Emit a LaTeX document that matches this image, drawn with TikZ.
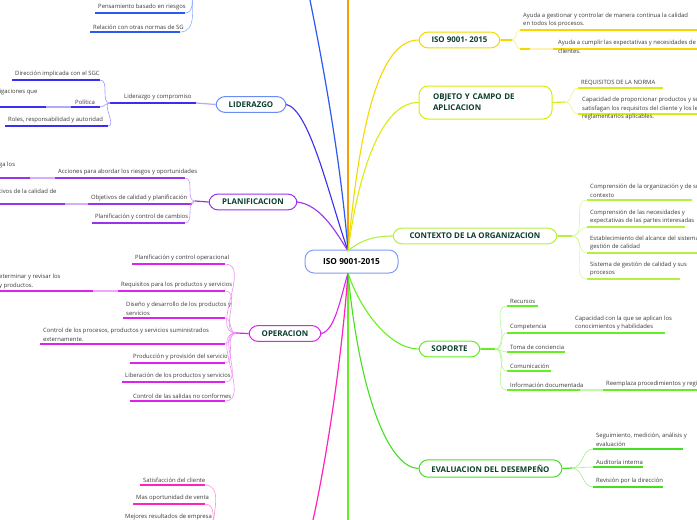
\documentclass[tikz,border=0pt]{standalone}
\usepackage{fontspec}
\setmainfont{Open Sans}
\definecolor{cblue}{HTML}{2A5BF0}
\definecolor{clid}{HTML}{3A2EF0}
\definecolor{cpla}{HTML}{9933EE}
\definecolor{cope}{HTML}{DD22EE}
\definecolor{cmag}{HTML}{FF22BB}
\definecolor{ciso}{HTML}{F5D800}
\definecolor{cobj}{HTML}{D8EC10}
\definecolor{cctx}{HTML}{B4F040}
\definecolor{csop}{HTML}{66EE22}
\definecolor{ceva}{HTML}{44E020}
\definecolor{corg}{HTML}{F5A000}
\definecolor{ctxt}{HTML}{3A3A3A}
\definecolor{cnode}{HTML}{0B3D2E}
\tikzset{
 small/.style={font=\fontsize{5.9}{8.5}\selectfont,text=ctxt,inner sep=0pt,align=left},
 main/.style={draw=#1,line width=1pt,rounded corners=9pt,fill=white,font=\fontsize{7.9}{11}\selectfont\bfseries,text=cnode,inner xsep=8pt,inner ysep=5pt,align=left},
 conn/.style={draw=#1,line width=0.6pt},
}
\newcommand\leaf[6]{%
 \coordinate (#1w) at (#2,#4); \coordinate (#1e) at (#3,#4);
 \draw[#6,line width=1.2pt] (#1w)--(#1e);
 \node[small,anchor=south west] (#1) at (#2+3,#4-2.5) {#5};}
\begin{document}
\begin{tikzpicture}[x=1pt,y=-1pt]
\useasboundingbox (0,0) rectangle (697,520);
% trunk lines
\coordinate (ct) at (348,251); \coordinate (cb) at (348,273);
\coordinate (topo) at (348,0); \coordinate (botg) at (348,520);
\coordinate (topb) at (310,0); \coordinate (botm) at (313,520);
\draw[corg,line width=1.2pt] (ct)--(topo);
\draw[csop,line width=1.2pt] (cb)--(botg);
\draw[cblue,line width=1.2pt] (ct) .. controls (340,150) and (318,40) .. (topb);
\draw[cmag,line width=1.2pt] (cb) .. controls (340,380) and (322,480) .. (botm);
% main nodes
\node[main=cblue!70,minimum width=70pt] (lid) at (251,104.5) {LIDERAZGO};
\node[main=cpla,minimum width=88pt] (pla) at (253,202) {PLANIFICACION};
\node[main=cope,minimum width=72pt] (ope) at (285,333.5) {OPERACION};
\node[main=ciso,minimum width=81pt] (iso) at (459.5,40) {ISO 9001- 2015};
\node[main=cobj,minimum width=133pt,minimum height=33pt,text width=105pt] (obj) at (485.5,102.5) {OBJETO Y CAMPO DE\\APLICACION};
\node[main=cctx,minimum width=164pt] (ctx) at (475,236) {CONTEXTO DE LA ORGANIZACION};
\node[main=csop,minimum width=61pt] (sop) at (449.5,349) {SOPORTE};
\node[main=ceva,minimum width=143pt] (eva) at (490.5,468.5) {EVALUACION DEL DESEMPEÑO};
\node[draw=cblue!60,line width=1pt,rounded corners=9pt,fill=white,font=\fontsize{8.3}{10}\selectfont\bfseries,text=black,minimum width=93pt,minimum height=23pt] (c) at (351.5,261.5) {ISO 9001-2015};
% center connectors
\draw[conn=clid,line width=1.1pt] (ct) .. controls (330,200) and (310,110) .. (lid.east);
\draw[conn=cpla,line width=1.1pt] (ct) .. controls (335,230) and (320,205) .. (pla.east);
\draw[conn=cope,line width=1.1pt] (cb) .. controls (340,300) and (335,330) .. (ope.east);
\draw[conn=ciso,line width=1.1pt] (ct) .. controls (360,120) and (380,40) .. (iso.west);
\draw[conn=cobj,line width=1.1pt] (ct) .. controls (360,160) and (385,102) .. (obj.west);
\draw[conn=cctx,line width=1.1pt] (ct) .. controls (360,240) and (375,236) .. (ctx.west);
\draw[conn=csop,line width=1.1pt] (cb) .. controls (360,310) and (390,349) .. (sop.west);
\draw[conn=ceva,line width=1.1pt] (cb) .. controls (360,400) and (390,468) .. (eva.west);
% ---------- top blue leaves
\leaf{pb}{95}{185}{13}{Pensamiento basado en riesgos}{cblue}
\leaf{rel}{90}{180}{32}{Relación con otras normas de SG}{cblue}
\coordinate (bbp) at (192,-10);
\draw[conn=cblue!50] (bbp) to[out=270,in=0] (pbe);
\draw[conn=cblue!50] (bbp) to[out=270,in=0] (rele);
% ---------- LIDERAZGO
\coordinate (lidbp) at (110,103);
\draw[clid!40,line width=1.2pt] (lid.west)--(196,103);
\draw[clid,line width=1.2pt] (196,103)--(lidbp);
\node[small,anchor=south west] (lyc) at (124,100.5) {Liderazgo y compromiso};
\leaf{dir}{12}{100}{80}{Dirección implicada con el SGC}{clid}
\coordinate (polw) at (0,107); \coordinate (pole) at (100,107);
\draw[clid!40,line width=1.2pt] (46,107)--(71,107);
\draw[clid,line width=1.2pt] (polw)--(46,107); \draw[clid,line width=1.2pt] (71,107)--(pole);
\node[small,anchor=south west] (pol) at (75,104.5) {Política};
\node[small,anchor=south west] (obl) at (-2,95.5) {ligaciones que};
\leaf{rol}{5}{108}{126}{Roles, responsabilidad y autoridad}{clid}
\draw[conn=clid!50] (lidbp) to[out=180,in=0] (dire);
\draw[conn=clid!50] (lidbp) to[out=180,in=0] (pole);
\draw[conn=clid!50] (lidbp) to[out=180,in=0] (role);
% ---------- PLANIFICACION
\coordinate (plabp) at (195,201);
\draw[cpla,line width=1.2pt] (pla.west)--(plabp);
\leaf{acc}{55}{185}{178}{Acciones para abordar los riesgos y oportunidades}{cpla}
\draw[cpla!40,line width=1.2pt] (30,178)--(55,178); \draw[cpla,line width=1.2pt] (0,178)--(30,178);
\node[small,anchor=south west] (ga) at (-1,168) {ga los};
\leaf{obc}{88}{192}{204}{Objetivos de calidad y planificación}{cpla}
\draw[cpla!40,line width=1.2pt] (65,204)--(88,204); \draw[cpla,line width=1.2pt] (0,204)--(65,204);
\node[small,anchor=south west] (tiv) at (-1,194) {tivos de la calidad de};
\leaf{pcc}{92}{185}{223}{Planificación y control de cambios}{cpla}
\draw[conn=cpla!50] (plabp) to[out=180,in=0] (acce);
\draw[conn=cpla!50] (plabp) to[out=180,in=0] (obce);
\draw[conn=cpla!50] (plabp) to[out=180,in=0] (pcce);
% ---------- OPERACION
\coordinate (opebp) at (236,333);
\draw[cope,line width=1.2pt] (ope.west)--(opebp);
\leaf{o1}{132}{225}{264}{Planificación y control operacional}{cope}
\leaf{o2}{118}{225}{291}{Requisitos para los productos y servicios}{cope}
\draw[cope!40,line width=1.2pt] (93,291)--(118,291); \draw[cope,line width=1.2pt] (0,291)--(93,291);
\node[small,anchor=south west] (det) at (-1,289) {eterminar y revisar los\\y productos.};
\leaf{o3}{123}{225}{318}{Diseño y desarrollo de los productos y\\servicios}{cope}
\leaf{o4}{40}{225}{344}{Control de los procesos, productos y servicios suministrados\\externamente.}{cope}
\leaf{o5}{130}{225}{363}{Producción y provisión del servicio}{cope}
\leaf{o6}{122}{225}{382}{Liberación de los productos y servicios}{cope}
\leaf{o7}{130}{225}{401}{Control de las salidas no conformes}{cope}
\foreach \i in {1,...,7} {\draw[conn=cope!50] (opebp) to[out=180,in=0] (o\i e);}
% ---------- bottom magenta
\leaf{m1}{140}{205}{485}{Satisfacción del cliente}{cmag}
\leaf{m2}{133}{205}{504}{Mas oportunidad de venta}{cmag}
\leaf{m3}{122}{215}{523}{Mejores resultados de empresa}{cmag}
\coordinate (mbp) at (213,530);
\draw[conn=cmag!50] (mbp) to[out=90,in=0] (m1e);
\draw[conn=cmag!50] (mbp) to[out=90,in=0] (m2e);
% ---------- ISO right
\coordinate (isobp) at (512,40);
\draw[ciso,line width=1.2pt] (iso.east)--(isobp);
\leaf{i1}{520}{697}{30}{Ayuda a gestionar y controlar de manera continua la calidad\\en todos los procesos.}{ciso}
\coordinate (i2w) at (520,49);
\draw[ciso,line width=1.2pt] (520,49)--(530,49); \draw[ciso!30,line width=1.2pt] (530,49)--(553,49); \draw[ciso,line width=1.2pt] (553,49)--(697,49);
\node[small,anchor=north west] (i2) at (558,40) {Ayuda a cumplir las expectativas y necesidades de los\\clientes.};
\draw[conn=ciso!50] (isobp) to[out=0,in=180] (i1w);
\draw[conn=ciso!50] (isobp) to[out=0,in=180] (i2w);
% ---------- OBJETO
\coordinate (objbp) at (565,102);
\draw[cobj,line width=1.2pt] (obj.east)--(objbp);
\leaf{b1}{578}{663}{88}{REQUISITOS DE LA NORMA}{cobj}
\coordinate (b2w) at (578,114);
\draw[cobj,line width=1.2pt] (b2w)--(697,114);
\node[small,anchor=north west] (b2) at (582,97) {Capacidad de proporcionar productos y servicios que\\satisfagan los requisitos del cliente y los legales y\\reglamentarios aplicables.};
\draw[conn=cobj!50] (objbp) to[out=0,in=180] (b1w);
\draw[conn=cobj!50] (objbp) to[out=0,in=180] (b2w);
% ---------- CONTEXTO
\coordinate (ctxbp) at (572,236);
\draw[cctx,line width=1.2pt] (ctx.east)--(ctxbp);
\leaf{x1}{587}{692}{200}{Comprensión de la organización y de su\\contexto}{cctx}
\leaf{x2}{587}{685}{227}{Comprensión de las necesidades y\\expectativas de las partes interesadas}{cctx}
\leaf{x3}{587}{697}{253}{Establecimiento del alcance del sistema de\\gestión de calidad}{cctx}
\leaf{x4}{587}{680}{279}{Sistema de gestión de calidad y sus\\procesos}{cctx}
\foreach \i in {1,...,4} {\draw[conn=cctx!50] (ctxbp) to[out=0,in=180] (x\i w);}
% ---------- SOPORTE
\coordinate (sopbp) at (495,349);
\draw[csop,line width=1.2pt] (sop.east)--(sopbp);
\leaf{s1}{507}{538}{306}{Recursos}{csop}
\leaf{s2}{507}{573}{333}{Competencia}{csop}
\leaf{s2a}{572}{665}{333}{Capacidad con la que se aplican los\\conocimientos y habilidades}{csop}
\leaf{s3}{507}{565}{352}{Toma de conciencia}{csop}
\leaf{s4}{507}{551}{371}{Comunicación}{csop}
\leaf{s5}{507}{580}{390}{Información documentada}{csop}
\leaf{s5a}{603}{697}{390}{Reemplaza procedimientos y registros}{csop}
\draw[csop!40,line width=1.2pt] (s5e)--(s5aw);
\foreach \i in {1,...,5} {\draw[conn=csop!50] (sopbp) to[out=0,in=180] (s\i w);}
% ---------- EVALUACION
\coordinate (evabp) at (572,468);
\draw[ceva,line width=1.2pt] (eva.east)--(evabp);
\leaf{e1}{593}{683}{449}{Seguimiento, medición, análisis y\\evaluación}{ceva}
\leaf{e2}{593}{643}{467}{Auditoría interna}{ceva}
\leaf{e3}{593}{663}{487}{Revisión por la dirección}{ceva}
\foreach \i in {1,...,3} {\draw[conn=ceva!50] (evabp) to[out=0,in=180] (e\i w);}
\end{tikzpicture}
\end{document}
